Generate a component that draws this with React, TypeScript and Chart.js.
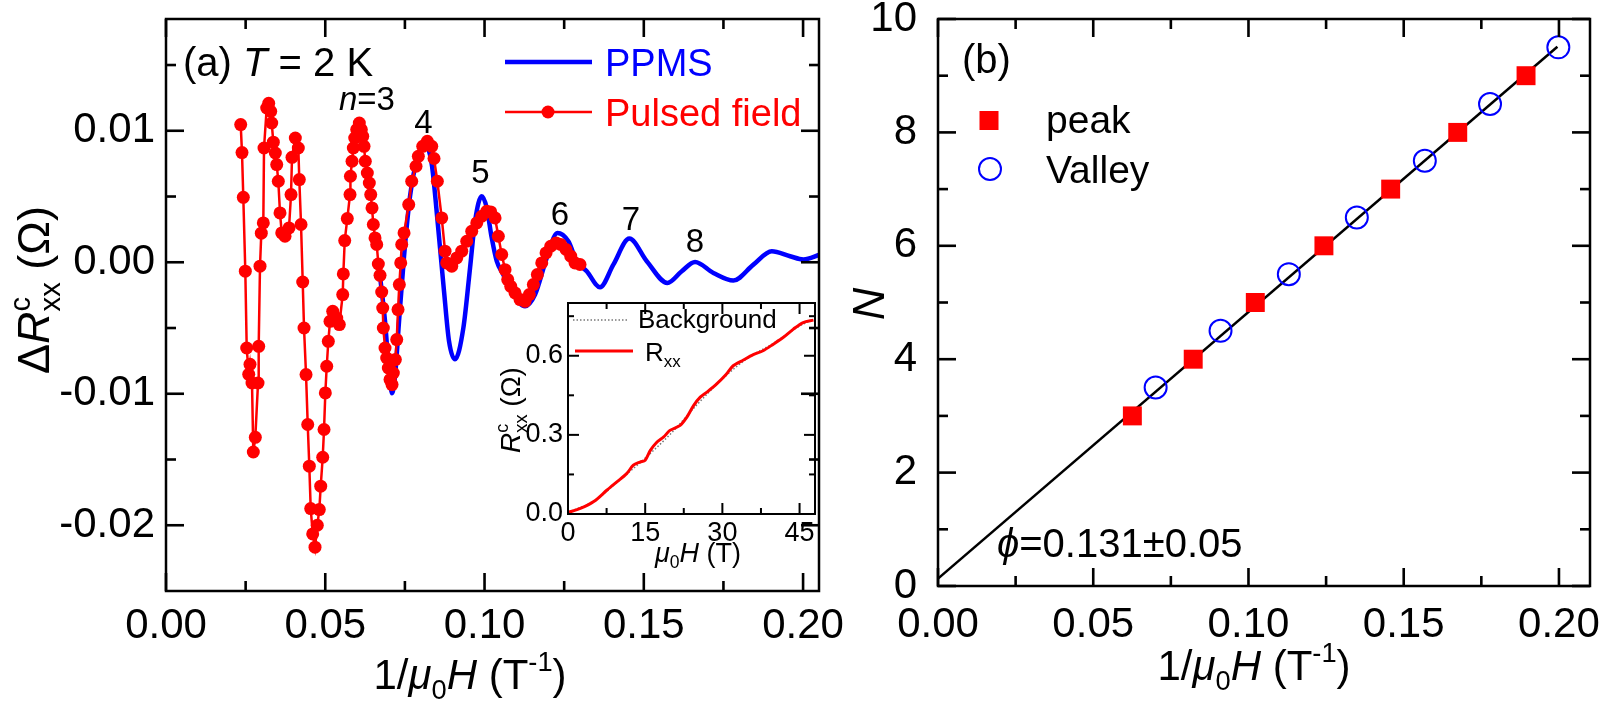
import React, { useEffect, useRef } from "react";
import { Chart, registerables } from "chart.js";
Chart.register(...registerables);

const FF = "'Liberation Sans', Arial, Helvetica, sans-serif";
const RED = "#ff0000";
const BLUE = "#0000ff";

// ---------- Panel (a): pulsed field data ----------
const pulsedInvField = [
  0.02345, 0.02386, 0.02427, 0.0249, 0.02534, 0.02597, 0.02637, 0.027, 0.02741, 0.02804,
  0.02889, 0.0291, 0.02951, 0.02992, 0.03055, 0.03077, 0.03162, 0.03224, 0.03287, 0.03319,
  0.03369, 0.03432, 0.03476, 0.03526, 0.03579, 0.03633, 0.03736, 0.03862, 0.03925, 0.03956,
  0.0406, 0.04154, 0.04185, 0.04239, 0.04292, 0.04333, 0.04396, 0.04449, 0.04499, 0.04543,
  0.04606, 0.04678, 0.0475, 0.04813, 0.04857, 0.0492, 0.04961, 0.05002, 0.05046, 0.05096,
  0.05149, 0.05234, 0.0536, 0.05441, 0.05548, 0.05567, 0.05611, 0.05692, 0.05777, 0.0579,
  0.0584, 0.05881, 0.05925, 0.05987, 0.06069, 0.06132, 0.06176, 0.06217, 0.06257, 0.0632,
  0.06383, 0.06427, 0.06468, 0.06509, 0.06562, 0.06615, 0.06666, 0.06719, 0.06772, 0.06804,
  0.06823, 0.06876, 0.06929, 0.0698, 0.07033, 0.07096, 0.07137, 0.072, 0.07244, 0.07284,
  0.07325, 0.07369, 0.074, 0.07473, 0.0762, 0.07714, 0.07849, 0.07922, 0.0806, 0.08204,
  0.08342, 0.08414, 0.08518, 0.08656, 0.0876, 0.08813, 0.0897, 0.09127, 0.09284, 0.09441,
  0.09598, 0.09755, 0.09912, 0.10069, 0.10195, 0.1033, 0.10433, 0.1054, 0.10644, 0.10728,
  0.10823, 0.10958, 0.11115, 0.11272, 0.11407, 0.11532, 0.11658, 0.11796, 0.11931, 0.12078,
  0.12245, 0.12392, 0.12559, 0.12706, 0.12841, 0.12998,
];
const pulsedDeltaR = [
  0.01047, 0.00834, 0.00494, -0.00068, -0.00652, -0.00852, -0.00776, -0.00918, -0.01443, -0.01331,
  -0.00918, -0.00639, -0.0003, 0.00221, 0.00299, 0.00869, 0.01173, 0.01209, 0.01148, 0.01059,
  0.00913, 0.00831, 0.00743, 0.00616, 0.00375, 0.00223, 0.00198, 0.00261, 0.00515, 0.00798,
  0.00945, 0.00869, 0.00629, 0.00287, -0.0015, -0.005, -0.00854, -0.01234, -0.01551, -0.01873,
  -0.02066, -0.02167, -0.02, -0.01881, -0.01703, -0.01483, -0.01272, -0.00994, -0.00791, -0.00601,
  -0.00449, -0.00373, -0.00424, -0.00474, -0.00246, -0.00089, 0.00165, 0.00332, 0.00515, 0.00654,
  0.00768, 0.00869, 0.00945, 0.01009, 0.01059, 0.01009, 0.00958, 0.00882, 0.00768, 0.00679,
  0.00603, 0.00515, 0.00413, 0.00287, 0.00185, 0.00135, -0.00013, -0.00099, -0.00226, -0.00348,
  -0.005, -0.00652, -0.00728, -0.00804, -0.00892, -0.0093, -0.00842, -0.0074, -0.00588, -0.0036,
  -0.0017, -0.00005, 0.00135, 0.00223, 0.00439, 0.00616, 0.0073, 0.00806, 0.00882, 0.0092,
  0.00882, 0.00789, 0.00616, 0.00337, 0.00084, -0.00005, -0.0003, 0.00033, 0.00084, 0.0016,
  0.00236, 0.00299, 0.0035, 0.00388, 0.00383, 0.00337, 0.00198, 0.00059, -0.00056, -0.00132,
  -0.00183, -0.00233, -0.00284, -0.00297, -0.00246, -0.0017, -0.00094, -0.00005, 0.00071, 0.00122,
  0.00147, 0.00135, 0.00097, 0.00046, -0.00005, -0.00017,
];

// ---------- Panel (a): PPMS data ----------
const ppmsInvField = [
  0.0672, 0.06876, 0.07002, 0.07096, 0.0719, 0.07316, 0.07473, 0.07661, 0.07881, 0.081,
  0.08226, 0.08352, 0.0854, 0.08728, 0.08885, 0.09074, 0.09335, 0.09545, 0.09702, 0.09912,
  0.10069, 0.10226, 0.10383, 0.1059, 0.10905, 0.11272, 0.11586, 0.11953, 0.12286, 0.12631,
  0.12894, 0.13209, 0.13626, 0.14044, 0.14546, 0.15093, 0.1574, 0.16191, 0.16609, 0.17184,
  0.17812, 0.1844, 0.19017, 0.19592, 0.2001, 0.2053,
];
const ppmsDeltaR = [
  -0.00106, -0.00449, -0.00829, -0.00996, -0.00867, -0.00449, 0.00046, 0.00502, 0.00783, 0.0089,
  0.00867, 0.0073, 0.00274, -0.0022, -0.006, -0.00738, -0.005, -0.00043, 0.00312, 0.00502,
  0.00413, 0.00185, 0.00008, -0.00094, -0.00246, -0.00335, -0.00246, 0.00033, 0.00223, 0.0016,
  0.00008, -0.00068, -0.0019, -0.00018, 0.0018, 0.00008, -0.00157, -0.00068, 0.00002, -0.00081,
  -0.00139, -0.00018, 0.00084, 0.00046, 0.00021, 0.00059,
];

const aXTicks = [0, 0.05, 0.1, 0.15, 0.2];
const aXMinor = [0.025, 0.075, 0.125, 0.175];
const aYTicks = [-0.02, -0.01, 0, 0.01];
const aYMinor = [-0.015, -0.005, 0.005, 0.015];

// ---------- Inset data ----------
const insetField = [
  0, 2.4, 5.0, 7.6, 9.5, 11.4, 12.7, 14.0, 15.0, 16.0, 17.3, 18.6, 19.8, 21.8, 23.1,
  24.4, 25.7, 27.0, 28.9, 30.8, 32.1, 34.1, 36.0, 37.9, 39.9, 41.8, 43.8, 45.7, 47.7,
];
const insetRxx = [
  0.006, 0.021, 0.047, 0.091, 0.122, 0.153, 0.185, 0.197, 0.204, 0.241, 0.273, 0.292, 0.317, 0.336, 0.367,
  0.411, 0.443, 0.462, 0.493, 0.531, 0.562, 0.584, 0.604, 0.619, 0.644, 0.669, 0.701, 0.726, 0.735,
];
const bgField = [0, 5, 10, 15, 20, 25, 30, 35, 40, 45, 47.7];
const bgRxx = [0.006, 0.049, 0.128, 0.212, 0.305, 0.413, 0.512, 0.592, 0.648, 0.713, 0.738];
const inXTicks = [0, 15, 30, 45];
const inXMinor = [7.5, 22.5, 37.5];
const inYTicks = [0, 0.3, 0.6];
const inYMinor = [0.15, 0.45, 0.75];

// ---------- Panel (b) data ----------
const peakInvField = [0.0626, 0.0822, 0.1022, 0.1243, 0.1458, 0.1674, 0.1894];
const peakN = [3, 4, 5, 6, 7, 8, 9];
const valleyInvField = [0.0701, 0.091, 0.113, 0.1349, 0.1568, 0.1778, 0.1998];
const valleyN = [3.5, 4.5, 5.5, 6.5, 7.5, 8.5, 9.5];
const fitInvField = [0, 0.1995];
const fitN = [0.131, 9.51];
const bXTicks = [0, 0.05, 0.1, 0.15, 0.2];
const bXMinor = [0.025, 0.075, 0.125, 0.175];
const bYTicks = [0, 2, 4, 6, 8, 10];
const bYMinor = [1, 3, 5, 7, 9];

// ---------- helpers ----------
type Seg = { t?: string; it?: boolean; sup?: string; sub?: string };

function fontStr(size: number, it?: boolean) {
  return `${it ? "italic " : ""}${size}px ${FF}`;
}
function segWidth(ctx: CanvasRenderingContext2D, s: Seg, size: number) {
  if (s.t !== undefined) {
    ctx.font = fontStr(size, s.it);
    return ctx.measureText(s.t).width;
  }
  ctx.font = fontStr(size * 0.65, s.it);
  const a = s.sup ? ctx.measureText(s.sup).width : 0;
  const b = s.sub ? ctx.measureText(s.sub).width : 0;
  return Math.max(a, b);
}
function drawRich(
  ctx: CanvasRenderingContext2D,
  segs: Seg[],
  x: number,
  y: number,
  size: number,
  color: string,
  align: "left" | "center" = "left",
  rotate = false
) {
  ctx.save();
  ctx.translate(x, y);
  if (rotate) ctx.rotate(-Math.PI / 2);
  const total = segs.reduce((w, s) => w + segWidth(ctx, s, size), 0);
  let cx = align === "center" ? -total / 2 : 0;
  ctx.fillStyle = color;
  ctx.textBaseline = "alphabetic";
  ctx.textAlign = "left";
  for (const s of segs) {
    const w = segWidth(ctx, s, size);
    if (s.t !== undefined) {
      ctx.font = fontStr(size, s.it);
      ctx.fillText(s.t, cx, 0);
    } else {
      ctx.font = fontStr(size * 0.65, s.it);
      if (s.sup) ctx.fillText(s.sup, cx, -size * 0.42);
      if (s.sub) ctx.fillText(s.sub, cx, size * 0.24);
    }
    cx += w;
  }
  ctx.restore();
}

// box + inward ticks on four sides, positions from the chart's own scales
function drawFrame(
  chart: any,
  xMajor: number[],
  xMinor: number[],
  yMajor: number[],
  yMinor: number[],
  major: number,
  minor: number,
  frameWidth: number,
  tw: number
) {
  const ctx = chart.ctx as CanvasRenderingContext2D;
  const area = chart.chartArea;
  const xs = chart.scales.x;
  const ys = chart.scales.y;
  const L = area.left;
  const R = area.right;
  const T = area.top;
  const B = area.bottom;
  ctx.save();
  ctx.fillStyle = "#000";
  const xt = (v: number, len: number) => {
    const p = xs.getPixelForValue(v);
    ctx.fillRect(p - tw / 2, B - len, tw, len);
    ctx.fillRect(p - tw / 2, T, tw, len);
  };
  const yt = (v: number, len: number) => {
    const p = ys.getPixelForValue(v);
    ctx.fillRect(L, p - tw / 2, len, tw);
    ctx.fillRect(R - len, p - tw / 2, len, tw);
  };
  xMajor.forEach((v) => xt(v, major));
  xMinor.forEach((v) => xt(v, minor));
  yMajor.forEach((v) => yt(v, major));
  yMinor.forEach((v) => yt(v, minor));
  ctx.strokeStyle = "#000";
  ctx.lineWidth = frameWidth;
  ctx.strokeRect(L, T, R - L, B - T);
  ctx.restore();
}

function axisOpts(
  min: number,
  max: number,
  ticks: number[],
  fmt: (v: number) => string,
  size: number,
  pad: number,
  fit: (s: any) => void
) {
  return {
    type: "linear",
    min,
    max,
    afterBuildTicks: (s: any) => {
      s.ticks = ticks.map((v) => ({ value: v }));
    },
    afterFit: fit,
    grid: { display: false, drawTicks: false },
    border: { display: false },
    ticks: {
      autoSkip: false,
      maxRotation: 0,
      minRotation: 0,
      padding: pad,
      color: "#000",
      font: { family: FF, size },
      callback: (v: any) => fmt(Number(v)),
    },
  };
}

const toXY = (xs: number[], ys: number[]) => xs.map((x, i) => ({ x, y: ys[i] }));

export default function App() {
  const refA = useRef<HTMLCanvasElement>(null);
  const refB = useRef<HTMLCanvasElement>(null);
  const refC = useRef<HTMLCanvasElement>(null);

  useEffect(() => {
    const charts: Chart[] = [];

    // ---------- Panel (a) ----------
    const decorA = {
      id: "decorA",
      afterDraw(chart: any) {
        const ctx = chart.ctx as CanvasRenderingContext2D;
        drawFrame(chart, aXTicks, aXMinor, aYTicks, aYMinor, 18, 10, 2.5, 2.6);
        drawRich(ctx, [{ t: "(a) " }, { t: "T", it: true }, { t: " = 2 K" }], 183, 76, 40, "#000");
        drawRich(ctx, [{ t: "n", it: true }, { t: "=3" }], 339, 110, 33, "#000");
        const labs: [string, number, number][] = [
          ["4", 423.5, 133],
          ["5", 480.5, 183],
          ["6", 560, 225],
          ["7", 631, 230],
          ["8", 695, 252],
        ];
        for (const [t, x, y] of labs) drawRich(ctx, [{ t }], x, y, 33, "#000", "center");
        ctx.save();
        ctx.strokeStyle = BLUE;
        ctx.lineWidth = 4.5;
        ctx.beginPath();
        ctx.moveTo(505, 62);
        ctx.lineTo(592, 62);
        ctx.stroke();
        ctx.strokeStyle = RED;
        ctx.lineWidth = 2.5;
        ctx.beginPath();
        ctx.moveTo(505, 112);
        ctx.lineTo(592, 112);
        ctx.stroke();
        ctx.fillStyle = RED;
        ctx.beginPath();
        ctx.arc(548, 112, 6.5, 0, Math.PI * 2);
        ctx.fill();
        ctx.restore();
        drawRich(ctx, [{ t: "PPMS" }], 605, 76, 38, BLUE);
        drawRich(ctx, [{ t: "Pulsed field" }], 605, 126, 38, RED);
        drawRich(
          ctx,
          [{ t: "Δ" }, { t: "R", it: true }, { sup: "c", sub: "xx" }, { t: " (Ω)" }],
          49,
          290,
          45,
          "#000",
          "center",
          true
        );
        drawRich(
          ctx,
          [{ t: "1/" }, { t: "μ", it: true }, { sub: "0" }, { t: "H", it: true }, { t: " (T" }, { sup: "-1" }, { t: ")" }],
          470,
          689,
          42,
          "#000",
          "center"
        );
      },
    };

    charts.push(
      new Chart(refA.current!, {
        type: "line",
        data: {
          datasets: [
            {
              label: "Pulsed field",
              data: toXY(pulsedInvField, pulsedDeltaR),
              borderColor: RED,
              backgroundColor: RED,
              borderWidth: 2.5,
              pointRadius: 6.5,
              pointBorderWidth: 0,
              pointBackgroundColor: RED,
              tension: 0,
            },
            {
              label: "PPMS",
              data: toXY(ppmsInvField, ppmsDeltaR),
              borderColor: BLUE,
              borderWidth: 4.5,
              pointRadius: 0,
              cubicInterpolationMode: "monotone",
            },
          ],
        } as any,
        options: {
          responsive: false,
          animation: false,
          events: [],
          layout: { padding: { top: 19, right: 41, left: 0, bottom: 0 } },
          plugins: { legend: { display: false }, tooltip: { enabled: false } },
          scales: {
            x: axisOpts(0, 0.205, aXTicks, (v) => v.toFixed(2), 42, 10, (s: any) => {
              s.height = 129;
              s.paddingLeft = 0;
              s.paddingRight = 0;
            }),
            y: axisOpts(-0.025, 0.0185, aYTicks, (v) => v.toFixed(2), 42, 11, (s: any) => {
              s.width = 166;
              s.paddingTop = 0;
              s.paddingBottom = 0;
            }),
          } as any,
        },
        plugins: [decorA],
      })
    );

    // ---------- Inset ----------
    const decorC = {
      id: "decorC",
      afterDraw(chart: any) {
        const ctx = chart.ctx as CanvasRenderingContext2D;
        drawFrame(chart, inXTicks, inXMinor, inYTicks, inYMinor, 11, 6, 2, 2);
        ctx.save();
        ctx.strokeStyle = "#777";
        ctx.lineWidth = 1.5;
        ctx.setLineDash([1.5, 2]);
        ctx.beginPath();
        ctx.moveTo(103, 30);
        ctx.lineTo(157, 30);
        ctx.stroke();
        ctx.setLineDash([]);
        ctx.strokeStyle = RED;
        ctx.lineWidth = 3;
        ctx.beginPath();
        ctx.moveTo(105, 61);
        ctx.lineTo(163, 61);
        ctx.stroke();
        ctx.restore();
        drawRich(ctx, [{ t: "Background" }], 168, 38, 26, "#000");
        drawRich(ctx, [{ t: "R" }, { sub: "xx" }], 175, 71, 26, "#000");
        drawRich(
          ctx,
          [{ t: "R", it: true }, { sup: "c", sub: "xx" }, { t: " (Ω)" }],
          50,
          120,
          28,
          "#000",
          "center",
          true
        );
        drawRich(ctx, [{ t: "μ", it: true }, { sub: "0" }, { t: "H", it: true }, { t: " (T)" }], 228, 272, 27, "#000", "center");
      },
    };

    charts.push(
      new Chart(refC.current!, {
        type: "line",
        data: {
          datasets: [
            {
              label: "Rxx",
              data: toXY(insetField, insetRxx),
              borderColor: RED,
              borderWidth: 3,
              pointRadius: 0,
              tension: 0.3,
            },
            {
              label: "Background",
              data: toXY(bgField, bgRxx),
              borderColor: "#777",
              borderWidth: 1.5,
              borderDash: [1.5, 2],
              pointRadius: 0,
              cubicInterpolationMode: "monotone",
            },
          ],
        } as any,
        options: {
          responsive: false,
          animation: false,
          events: [],
          layout: { padding: { top: 13, right: 15, left: 0, bottom: 0 } },
          plugins: { legend: { display: false }, tooltip: { enabled: false } },
          scales: {
            x: axisOpts(0, 48, inXTicks, (v) => String(v), 27, 3, (s: any) => {
              s.height = 96;
              s.paddingLeft = 0;
              s.paddingRight = 0;
            }),
            y: axisOpts(0, 0.8, inYTicks, (v) => v.toFixed(1), 27, 5, (s: any) => {
              s.width = 98;
              s.paddingTop = 0;
              s.paddingBottom = 0;
            }),
          } as any,
        },
        plugins: [decorC],
      })
    );

    // ---------- Panel (b) ----------
    const decorB = {
      id: "decorB",
      afterDraw(chart: any) {
        const ctx = chart.ctx as CanvasRenderingContext2D;
        drawFrame(chart, bXTicks, bXMinor, bYTicks, bYMinor, 18, 10, 2.5, 2.6);
        drawRich(ctx, [{ t: "(b)" }], 122, 73, 40, "#000");
        ctx.save();
        ctx.fillStyle = RED;
        ctx.fillRect(149 - 9.5, 120.5 - 9.5, 19, 19);
        ctx.strokeStyle = BLUE;
        ctx.lineWidth = 2;
        ctx.beginPath();
        ctx.arc(150, 169, 11, 0, Math.PI * 2);
        ctx.stroke();
        ctx.restore();
        drawRich(ctx, [{ t: "peak" }], 206, 133, 39, "#000");
        drawRich(ctx, [{ t: "Valley" }], 206, 183, 39, "#000");
        drawRich(ctx, [{ t: "ϕ", it: true }, { t: "=0.131±0.05" }], 157, 557, 40, "#000");
        drawRich(ctx, [{ t: "N", it: true }], 44, 304, 45, "#000", "center", true);
        drawRich(
          ctx,
          [{ t: "1/" }, { t: "μ", it: true }, { sub: "0" }, { t: "H", it: true }, { t: " (T" }, { sup: "-1" }, { t: ")" }],
          414,
          680,
          42,
          "#000",
          "center"
        );
      },
    };

    charts.push(
      new Chart(refB.current!, {
        type: "scatter",
        data: {
          datasets: [
            {
              label: "peak",
              data: toXY(peakInvField, peakN),
              pointStyle: "rect",
              pointRadius: 13.4,
              backgroundColor: RED,
              borderWidth: 0,
              pointBorderWidth: 0,
              showLine: false,
            },
            {
              label: "Valley",
              data: toXY(valleyInvField, valleyN),
              pointStyle: "circle",
              pointRadius: 11,
              borderColor: BLUE,
              backgroundColor: "rgba(0,0,0,0)",
              pointBorderWidth: 2,
              showLine: false,
            },
            {
              label: "fit",
              data: toXY(fitInvField, fitN),
              showLine: true,
              borderColor: "#000",
              borderWidth: 2.5,
              pointRadius: 0,
            },
          ],
        } as any,
        options: {
          responsive: false,
          animation: false,
          events: [],
          layout: { padding: { top: 19, right: 15, left: 0, bottom: 0 } },
          plugins: { legend: { display: false }, tooltip: { enabled: false } },
          scales: {
            x: axisOpts(0, 0.21, bXTicks, (v) => v.toFixed(2), 42, 14, (s: any) => {
              s.height = 134;
              s.paddingLeft = 0;
              s.paddingRight = 0;
            }),
            y: axisOpts(0, 10, bYTicks, (v) => String(v), 42, 21, (s: any) => {
              s.width = 98;
              s.paddingTop = 0;
              s.paddingBottom = 0;
            }),
          } as any,
        },
        plugins: [decorB],
      })
    );

    return () => charts.forEach((c) => c.destroy());
  }, []);

  return (
    <div style={{ position: "absolute", left: 0, top: 0, width: 1600, height: 720, background: "#fff", overflow: "hidden" }}>
      <canvas ref={refA} width={860} height={720} style={{ position: "absolute", left: 0, top: 0, width: 860, height: 720 }} />
      <canvas ref={refB} width={765} height={720} style={{ position: "absolute", left: 840, top: 0, width: 765, height: 720 }} />
      <canvas ref={refC} width={360} height={320} style={{ position: "absolute", left: 470, top: 290, width: 360, height: 320 }} />
    </div>
  );
}
